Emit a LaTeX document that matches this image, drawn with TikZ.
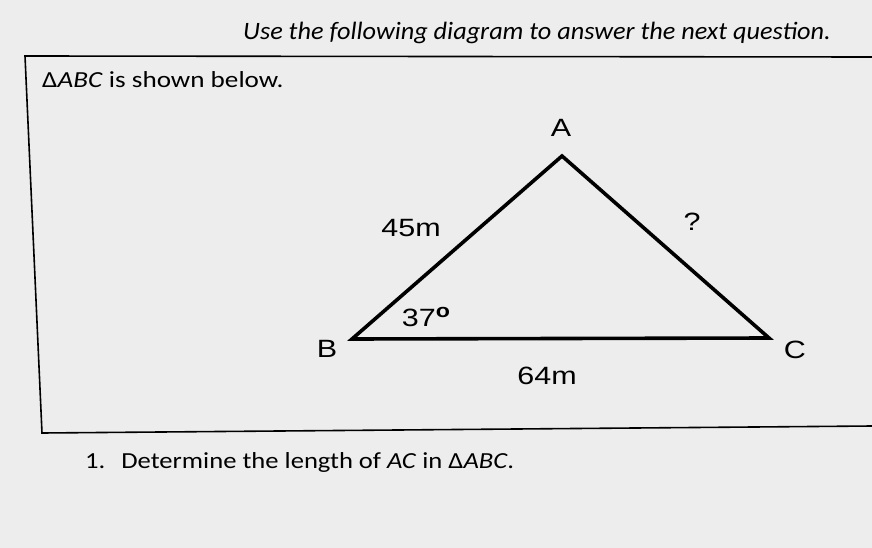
\documentclass[tikz,border=0pt]{standalone}
\usepackage{fontspec}
\setmainfont{Carlito}
\newfontfamily\arialfont{Liberation Sans}
\usepackage{tikz}

\begin{document}
\begin{tikzpicture}[x=1pt,y=-1pt,
  every node/.style={inner sep=0pt},
  sheet/.style={font=\fontsize{23}{26}\selectfont,xscale=1.18},
  fig/.style={font=\arialfont\fontsize{25}{28}\selectfont,xscale=1.22},
  side/.style={line width=3.6pt,line join=miter}]
\useasboundingbox (0,0) rectangle (872,548);
\fill[black!7] (0,0) rectangle (872,548);
\node[sheet,xscale=0.89,font=\itshape\fontsize{25}{28}\selectfont] (head) at (537,33) {Use the following diagram to answer the next question.};
\draw[line width=1.6pt] (872,57) -- (25,56) -- (42,433) -- (872,426);
\node[sheet,anchor=west] (intro) at (42,80) {Δ\textit{ABC} is shown below.};
\coordinate (A) at (562,156);
\coordinate (B) at (352,339);
\coordinate (C) at (769,338);
\draw[side] (A) -- (B) -- (C) -- cycle;
\node[fig] (lblA) at (561,128) {A};
\node[fig] (lblB) at (327,349) {B};
\node[fig] (lblC) at (795,350) {C};
\node[fig] (ab) at (411,228) {45m};
\node[fig] (ac) at (692,222) {?};
\node[fig] (ang) at (426,317) {37\raisebox{0.62ex}{\fontsize{19}{19}\selectfont\bfseries o}};
\node[fig] (bc) at (547,376) {64m};
\node[sheet,anchor=west,xscale=0.98] (task) at (85,462) {1.\hspace{0.6em}Determine the length of \textit{AC} in Δ\textit{ABC}.};
\end{tikzpicture}
\end{document}
